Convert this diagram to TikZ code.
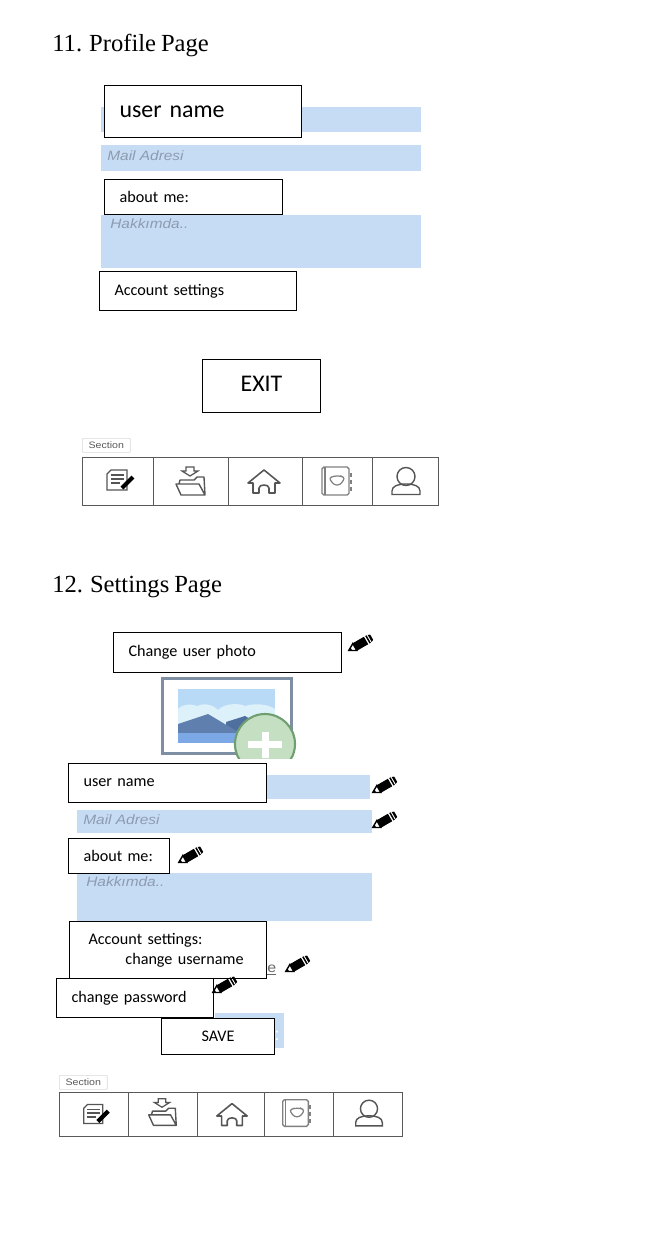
\documentclass[tikz,border=0pt]{standalone}
\usepackage{fontspec}
\setmainfont[WordSpace=0.72]{Carlito}
\newfontfamily\headfont[WordSpace=0.8]{Liberation Serif}
\newfontfamily\hintfont[FakeStretch=1.14]{Liberation Sans}
\definecolor{fieldblue}{HTML}{C6DCF4}
\definecolor{hintgray}{HTML}{8D9BB0}
\definecolor{icongray}{HTML}{555555}
\definecolor{framegray}{HTML}{7F8FA3}
\definecolor{skyblue}{HTML}{B9DAF6}
\definecolor{cloudblue}{HTML}{DDF1FA}
\definecolor{hillblue}{HTML}{5F80AF}
\definecolor{hilldark}{HTML}{4F6F9F}
\definecolor{waterblue}{HTML}{7DA8E6}
\definecolor{plusgreen}{HTML}{C5DFC3}
\definecolor{plusedge}{HTML}{6F9F70}
\tikzset{
  pencilicon/.pic ={
    \fill[black, rotate=30] (-6,-4.3) -- (7,-4.3) -- (7,4.3) -- (-6,4.3) -- cycle;
    \fill[black, rotate=30] (8.5,-4.3) -- (10,-4.3) -- (10,4.3) -- (8.5,4.3) -- cycle;
    \fill[black, rotate=30] (11.2,-4) -- (13.5,-3) -- (13.5,3) -- (11.2,4) -- cycle;
    \draw[black, fill=white, line width=0.8pt, rotate=30] (-6,-4) -- (-13,0) -- (-6,4) -- cycle;
    \fill[black, rotate=30] (-13.5,0) -- (-10,-2) -- (-10,2) -- cycle;
  },
  noteicon/.pic ={
    \draw[icongray, line width=0.7pt] (-9,-9) -- (7,-9) -- (7,11) -- (-13,11) -- (-13,-5) -- cycle;
    \draw[icongray, line width=0.8pt] (-9,-4) -- (4,-4) (-9,0) -- (4,0) (-9,4) -- (0,4);
    \draw[black, line width=2.4pt] (2,9) -- (13,-2);
  },
  foldericon/.pic ={
    \draw[icongray, line width=0.7pt] (-4,-14) -- (4,-14) -- (4,-10) -- (8,-10) -- (0,-5) -- (-8,-10) -- (-4,-10) -- cycle;
    \draw[icongray, line width=0.8pt, line join=round] (-11,3) -- (-10,-1) -- (4,-1) -- (7,-4) -- (14,-4) -- (15,14) -- (-9,14) -- (-14,3) -- (9,3) -- (15,14);
  },
  homeicon/.pic ={
    \draw[icongray, line width=0.9pt, line join=round] (-16,1) -- (0,-12) -- (16,1) -- (11,1) -- (11,11) -- (5,11) -- (5,6) .. controls (5,2) and (-5,2) .. (-5,6) -- (-5,11) -- (-11,11) -- (-11,1) -- cycle;
  },
  bookicon/.pic ={
    \draw[gray, line width=0.8pt, rounded corners=1pt] (-15,-14) rectangle (12,14);
    \draw[gray, line width=0.8pt] (-12,-14) -- (-12,14);
    \draw[gray, line width=1.2pt] (14,-8) -- (14,-4) (14,-1) -- (14,3) (14,6) -- (14,10);
    \draw[gray, line width=0.7pt, rounded corners=1.5pt] (-8,-3) -- (-3,-5) -- (4,-5) -- (8,-3) -- (3,4) -- (-3,4) -- cycle;
  },
  usericon/.pic ={
    \draw[icongray, line width=0.8pt] (0,-4.5) circle [radius=9];
    \draw[icongray, line width=0.8pt] (-14,13.5) -- (-14,10) .. controls (-14,5) and (-8,3) .. (0,3) .. controls (8,3) and (14,5) .. (14,10) -- (14,13.5) -- cycle;
  }
}
\begin{document}
\begin{tikzpicture}[x=0.02cm, y=-0.02cm,
  heading/.style ={ anchor = base west, inner sep = 0, font = \headfont\fontsize{14}{16}\selectfont},
  field/.style 2 args={ rectangle, anchor = north west, fill = fieldblue, inner sep = 0,
  minimum width = #1*0.02cm, minimum height = #2*0.02cm},
  hint/.style ={ anchor = north west, inner sep = 0, text = hintgray, font = \hintfont\itshape\fontsize{7.7}{9}\selectfont},
  labelbox/.style 2 args={ rectangle, anchor = north west, draw, black, fill = white, text = black, line width = 0.6pt,
  minimum width = #1*0.02cm, minimum height = #2*0.02cm, inner xsep = 0.3cm, inner ysep = 0,
  text width = #1*0.02cm-0.6cm, align = left, font = \fontsize{9.2}{11.3}\selectfont},
  tagbox/.style ={ rectangle, anchor = north west, draw = black!15, rounded corners = 0.5pt, text = black!65, inner sep = 0,
  minimum width = 0.96cm, minimum height = 0.28cm, font = \hintfont\fontsize{5.3}{6}\selectfont},
  tabcell/.style 2 args={ rectangle, anchor = north west, draw = black!65, line width = 0.7pt,
  minimum width = #1*0.02cm, minimum height = #2*0.02cm}]
  \useasboundingbox (0,0) rectangle (664,1248);
  \node[heading] (profile) at (52,51) {11. Profile Page};
  \node[field={320}{25}] (namefield) at (101,107) {};
  \node[field={320}{26}] (mailfield) at (101,145) {};
  \node[hint] (mailhint) at (107,150) {Mail Adresi};
  \node[field={320}{53}] (aboutfield) at (101,215) {};
  \node[hint] (abouthint) at (110,218) {Hakkımda..};
  \node[labelbox={197}{52}, font = \fontsize{13.6}{16}\selectfont] (username) at (104,85) {user name};
  \node[labelbox={178}{35}] (aboutme) at (104,179) {about me:};
  \node[labelbox={197}{39}] (account) at (99,271) {Account settings};
  \node[labelbox={118}{53}, align = center, text depth = 0.08cm, font = \fontsize{13.6}{16}\selectfont] (exit) at (202,359) {EXIT};
  \node[tagbox] (section) at (82,438) {Section};
  \node[tabcell={71}{48}] (tabnote) at (82,457) {};
  \node[tabcell={75}{48}] (tabfolder) at (153,457) {};
  \node[tabcell={74}{48}] (tabhome) at (228,457) {};
  \node[tabcell={70}{48}] (tabbook) at (302,457) {};
  \node[tabcell={66}{48}] (tabuser) at (372,457) {};
  \pic at (120,479) {noteicon};
  \pic at (190,481) {foldericon};
  \pic at (264,482) {homeicon};
  \pic at (337,481) {bookicon};
  \pic at (406,481) {usericon};

  \node[heading] (settings) at (52,592) {12. Settings Page};
  \node[labelbox={228}{40}] (changephoto) at (113,632) {Change user photo};
  \pic at (360,644) {pencilicon};
  \draw[draw=framegray, line width=1.7pt, fill=white] (162.5,678.5) rectangle (291.5,753.5);
  \fill[skyblue] (178,689) rectangle (275,743);
  \fill[cloudblue] (178,709) .. controls (184,703) and (192,704) .. (197,706) .. controls (203,703) and (212,704) .. (218,710) .. controls (224,703) and (240,703) .. (245,706) .. controls (254,703) and (268,704) .. (275,709) -- (275,733) -- (178,733) -- cycle;
  \fill[hilldark] (226,722) -- (245,716) -- (275,733) -- (226,733) -- cycle;
  \fill[hillblue] (178,724) -- (208,714) -- (240,733) -- (178,733) -- cycle;
  \fill[waterblue] (178,733) rectangle (275,743);
  \begin{scope}
    \clip (225,700) rectangle (305,758);
    \draw[draw=plusedge, line width=1.2pt, fill=plusgreen] (265,744) circle [radius=30];
    \fill[white] (248,740.5) rectangle (282,747.5);
    \fill[white] (261.5,732) rectangle (268.5,758);
  \end{scope}
  \node[field={295}{24}] (namefieldb) at (75,775) {};
  \node[field={295}{23}] (mailfieldb) at (77,810) {};
  \node[hint] (mailhintb) at (83,814) {Mail Adresi};
  \node[field={295}{48}] (aboutfieldb) at (77,873) {};
  \node[hint] (abouthintb) at (86,876) {Hakkımda..};
  \node[field={69}{35}] (savefield) at (215,1013) {};
  \node[anchor = base west, inner sep = 0, text = white, font = \hintfont\fontsize{10}{12}\selectfont] (savefrag) at (274,1040) {:};
  \node[labelbox={198}{39}] (usernameb) at (68,763) {user name};
  \node[labelbox={101}{35}] (aboutmeb) at (68,838) {about me:};
  \node[anchor = base west, inner sep = 0, text = black!60, font = \hintfont\fontsize{8}{10}\selectfont] (namefrag) at (267,972) {\underline{e}};
  \node[labelbox={197}{57}, inner xsep = 0.38cm, text width = 3.18cm] (accountb) at (69,921) {Account settings:\\\hspace*{21pt}change username};
  \node[labelbox={157}{39}] (changepass) at (56,978) {change password};
  \node[labelbox={113}{36}, align = center] (save) at (161,1018) {SAVE};
  \pic at (384,786) {pencilicon};
  \pic at (384,821) {pencilicon};
  \pic at (190,856) {pencilicon};
  \pic at (297,965) {pencilicon};
  \pic at (224,986) {pencilicon};
  \node[tagbox] (sectionb) at (59,1075) {Section};
  \node[tabcell={69}{44}] (tabnoteb) at (59,1092) {};
  \node[tabcell={69}{44}] (tabfolderb) at (128,1092) {};
  \node[tabcell={67}{44}] (tabhomeb) at (197,1092) {};
  \node[tabcell={69}{44}] (tabbookb) at (264,1092) {};
  \node[tabcell={69}{44}] (tabuserb) at (333,1092) {};
  \pic[scale=.95] at (96,1113) {noteicon};
  \pic[scale=.95] at (162,1112) {foldericon};
  \pic[scale=.95] at (232,1115) {homeicon};
  \pic[scale=.95] at (297,1113) {bookicon};
  \pic[scale=.95] at (369,1113) {usericon};
  \end{tikzpicture}
\end{document}
